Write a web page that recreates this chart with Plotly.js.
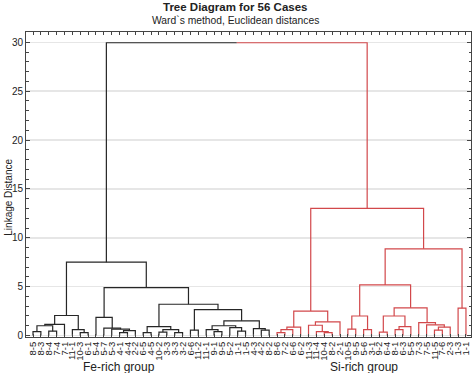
<!DOCTYPE html>
<html><head><meta charset="utf-8">
<script src="https://cdn.plot.ly/plotly-3.0.1.min.js"></script>
<style>html,body{margin:0;padding:0;background:#fff;}#chart{width:474px;height:373px;}</style>
</head><body><div id="chart"></div>
<script>
// Leaf (case) labels, left to right
const leafLabels = ["8-5","8-3","8-4","7-4","7-1","11-1","10-3","6-1","5-4","5-7","5-3","4-1","4-4","2-2","6-5","4-5",
  "10-2","3-3","3-3","3-2","6-6","11-2","11-1","9-1","9-5","5-2","1-1","1-5","4-3","4-2","8-2",
  "8-6","7-2","6-6","6-2","11-3","11-4","10-4","8-2","2-1","10-5","9-5","5-6","3-1","9-2","6-4","8-1","6-3","5-5",
  "7-3","7-5","11-5","7-6","2-3","1-3","1-1"];
// Linkage merges: node ids 0..55 are leaves, merge k creates node 56+k
const mergeLeft  = [0,2,56,58,6,5,59, 11,63,10,9,8, 14,16,18,69,68, 20,23,22,26,25,75,29,28,78,73,72,67,62,
  31,86,87,37,36,35,91,88, 40,42,94,44,46,98,97,51,101,50,49,100,96,54,106,93,85];
const mergeRight = [1,3,57,4,7,60,61, 12,13,64,65,66, 15,17,19,70,71, 21,24,74,27,76,77,30,79,80,81,82,83,84,
  32,33,34,38,89,90,39,92, 41,43,95,45,47,48,99,52,53,102,103,104,105,55,107,108,109];
const mergeHeight = [0.4,0.45,1.0,1.15,0.3,0.6,2.05, 0.3,0.5,0.65,0.75,1.85, 0.3,0.35,0.3,0.6,0.92,
  0.55,0.4,0.6,0.45,0.8,1.0,0.55,0.7,1.5,2.65,3.2,4.9,7.5,
  0.3,0.6,0.85,0.3,0.4,1.05,1.4,2.5, 0.65,0.6,2.0,0.35,0.6,0.92,2.0,0.55,0.85,1.1,1.33,2.83,5.18,2.8,8.87,13.0,29.95];
const groupNames = ["Fe-rich group","Si-rich group"];
const firstSiLeaf = 31;

const n = leafLabels.length;
const nodeX = [], nodeH = [], nodeMin = [];
for (let i = 0; i < n; i++) { nodeX[i] = i; nodeH[i] = 0; nodeMin[i] = i; }
const blk = {x:[], y:[]}, red = {x:[], y:[]};
function seg(t, pts){ pts.forEach(p=>{t.x.push(p[0]); t.y.push(p[1]);}); t.x.push(null); t.y.push(null); }
for (let k = 0; k < mergeLeft.length; k++) {
  const a = mergeLeft[k], b = mergeRight[k], h = mergeHeight[k], id = n + k;
  nodeX[id] = (nodeX[a] + nodeX[b]) / 2; nodeH[id] = h; nodeMin[id] = Math.min(nodeMin[a], nodeMin[b]);
  const aRed = nodeMin[a] >= firstSiLeaf, bRed = nodeMin[b] >= firstSiLeaf;
  if (aRed === bRed) {
    seg(aRed ? red : blk, [[nodeX[a], nodeH[a]], [nodeX[a], h], [nodeX[b], h], [nodeX[b], nodeH[b]]]);
  } else {
    seg(aRed ? red : blk, [[nodeX[a], nodeH[a]], [nodeX[a], h], [nodeX[id], h]]);
    seg(bRed ? red : blk, [[nodeX[id], h], [nodeX[b], h], [nodeX[b], nodeH[b]]]);
  }
}
const traces = [
  {type:'scatter', mode:'lines', x:blk.x, y:blk.y, line:{color:'#262626', width:1.2}, hoverinfo:'skip', connectgaps:false},
  {type:'scatter', mode:'lines', x:red.x, y:red.y, line:{color:'#d2484b', width:1.2}, hoverinfo:'skip', connectgaps:false}
];
const leafIdx = leafLabels.map((_, i) => i);
const layout = {
  width:474, height:373, margin:{l:26, r:3, t:32, b:36},
  paper_bgcolor:'#fff', plot_bgcolor:'#fff', showlegend:false,
  font:{family:'"Liberation Sans", Arial, sans-serif', color:'#222'},
  xaxis:{range:[-0.89, 55.64], tickmode:'array', tickvals:leafIdx, ticktext:leafLabels, tickangle:-90,
    tickfont:{size:9.5}, ticks:'inside', ticklen:3, tickcolor:'#444', showline:true, linecolor:'#444',
    mirror:'ticks', showgrid:false, zeroline:false},
  yaxis:{range:[-0.15, 31.05], tickmode:'linear', tick0:0, dtick:5, ticks:'inside', ticklen:4, tickcolor:'#444',
    showgrid:true, gridcolor:'#e6e6e6', gridwidth:1.5, showline:true, linecolor:'#444', mirror:'ticks',
    zeroline:false, tickfont:{size:10},
    minor:{dtick:1, ticks:'inside', ticklen:2.5, tickcolor:'#444', showgrid:false}},
  annotations:[
    {text:'<b>Tree Diagram for 56 Cases</b>', xref:'paper', yref:'paper', x:0.47, y:1.083, showarrow:false, font:{size:11.5}, xanchor:'center', yanchor:'middle'},
    {text:'Ward`s method, Euclidean distances', xref:'paper', yref:'paper', x:0.47, y:1.039, showarrow:false, font:{size:10.3}, xanchor:'center', yanchor:'middle'},
    {text:'Linkage Distance', xref:'paper', yref:'paper', x:-0.04, y:0.4574, textangle:-90, showarrow:false, font:{size:10}, xanchor:'center', yanchor:'middle'},
    {text:groupNames[0], xref:'paper', yref:'paper', x:0.209, y:-0.0984, showarrow:false, font:{size:12}, xanchor:'center', yanchor:'middle'},
    {text:groupNames[1], xref:'paper', yref:'paper', x:0.76, y:-0.0984, showarrow:false, font:{size:12}, xanchor:'center', yanchor:'middle'}
  ]
};
Plotly.newPlot('chart', traces, layout, {displayModeBar:false, staticPlot:true});
</script></body></html>
